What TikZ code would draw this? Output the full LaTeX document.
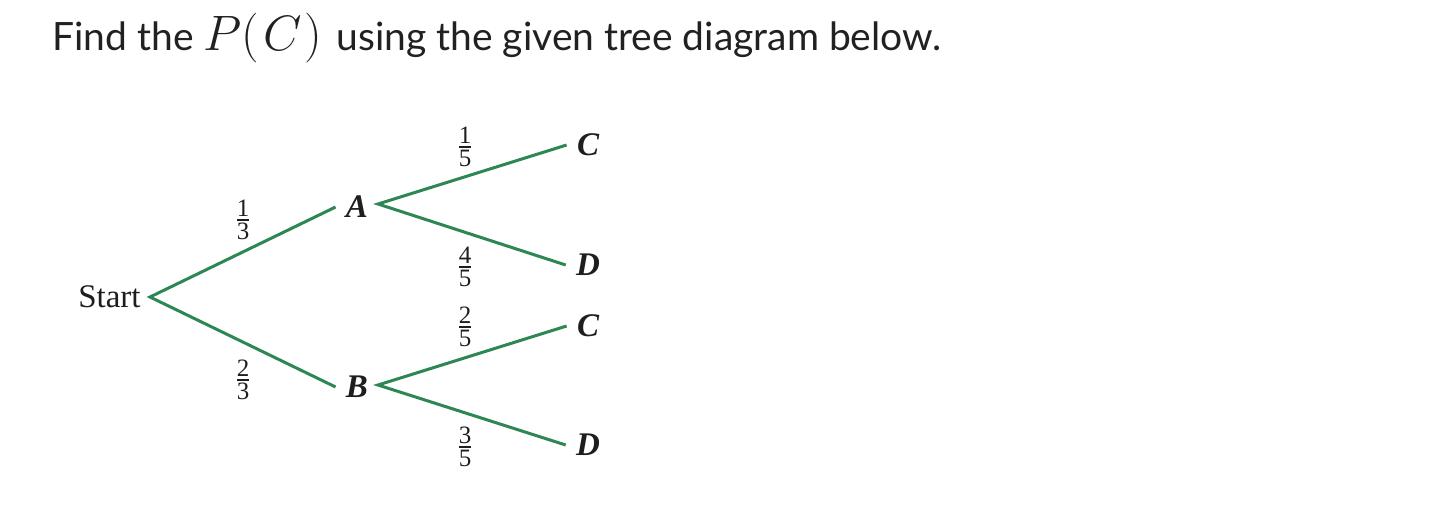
\documentclass[tikz,border=0pt]{standalone}
\usepackage{fontspec}
\setmainfont{Liberation Serif}
\newfontfamily\latofont{Lato}
\definecolor{treegreen}{RGB}{45,135,85}
\definecolor{inkcol}{RGB}{30,30,30}
\newcommand\frc[2]{\vbox{\halign{\hfil##\hfil\cr#1\cr\noalign{\kern1.2pt\hrule height 0.8pt\kern1.2pt}#2\cr}}}
\tikzset{
  branch/.style={draw=treegreen, line width=1.5pt, line join=miter},
  letter/.style={inner xsep=5pt, inner ysep=0pt, font=\fontsize{16.5}{18}\selectfont\bfseries\itshape, text=inkcol},
  prob/.style={inner sep=0pt, font=\fontsize{12.5}{13}\selectfont, text=inkcol},
}
\begin{document}
\begin{tikzpicture}[x=0.5pt,y=-0.5pt]
\useasboundingbox (0,0) rectangle (1451,504);
% title
\node[anchor=base west, inner sep=0pt, text=black!87] (title) at (52,50)
  {\fontsize{19.5}{22}\selectfont\latofont Find the {\fontsize{27}{29}\selectfont$P\bigl(\kern2pt C\kern1.5pt\bigr)$}\kern2pt{} using the given tree diagram below.};
% tree
\node[inner sep=0pt, font=\fontsize{16.5}{18}\selectfont, text=inkcol, anchor=east] (start) at (141,297) {Start};
\coordinate (Sv) at (150,297);
\node[letter] (A) at (357,207) {A};
\node[letter] (B) at (357,387) {B};
\coordinate (Av) at (378,204);
\coordinate (Bv) at (378,385);
\node[letter] (C1) at (588,145) {C};
\node[letter] (D1) at (588,265) {D};
\node[letter] (C2) at (588,326) {C};
\node[letter] (D2) at (588,445) {D};
\draw[branch] (A.west) -- (Sv) -- (B.west);
\draw[branch] (C1.west) -- (Av) -- (D1.west);
\draw[branch] (C2.west) -- (Bv) -- (D2.west);
\node[prob] (p13) at (243,220) {\frc{1}{3}};
\node[prob] (p23) at (243,380) {\frc{2}{3}};
\node[prob] (p15) at (465,147) {\frc{1}{5}};
\node[prob] (p45) at (465,267) {\frc{4}{5}};
\node[prob] (p25) at (465,327) {\frc{2}{5}};
\node[prob] (p35) at (465,447) {\frc{3}{5}};
\end{tikzpicture}
\end{document}
